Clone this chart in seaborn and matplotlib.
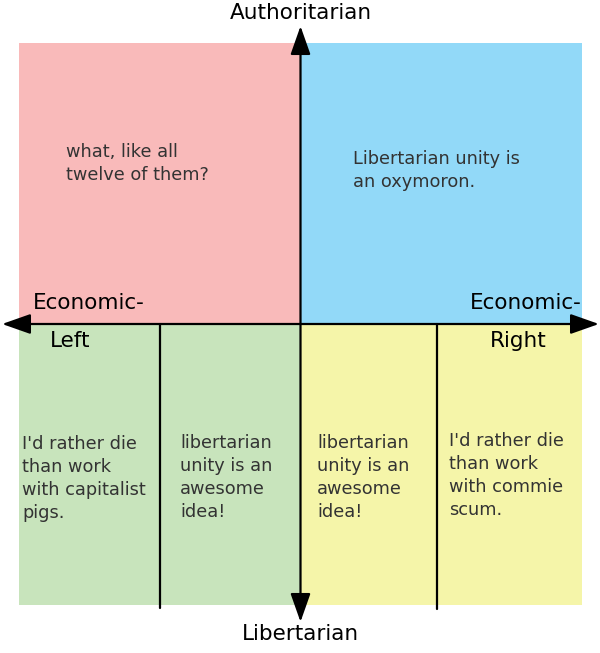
import matplotlib
matplotlib.use("Agg")
import matplotlib.pyplot as plt
from matplotlib.patches import Rectangle, ArrowStyle
import seaborn as sns
import pandas as pd

# ---- data ----
quad_x0 = [-10, 0, -10, 0]
quad_y0 = [0, 0, -10, -10]
quad_w = [10, 10, 10, 10]
quad_h = [10, 10, 10, 10]
quad_colors = ["#F9BABA", "#92D9F8", "#C8E4BC", "#F5F5A9"]

divider_x = [-5.0, 4.85]
divider_top = [0.0, 0.0]
divider_bottom = [-10.1, -10.15]

axis_labels = ["Authoritarian", "Libertarian", "Economic-", "Left", "Economic-", "Right"]
axis_label_x = [0.0, 0.0, -9.5, -8.9, 10.0, 6.74]
axis_label_y = [10.85, -11.23, 0.53, -0.82, 0.53, -0.82]
axis_label_ha = ["center", "center", "left", "left", "right", "left"]

blurbs = [
    ["what, like all", "twelve of them?"],
    ["Libertarian unity is", "an oxymoron."],
    ["I'd rather die", "than work", "with capitalist", "pigs."],
    ["libertarian", "unity is an", "awesome", "idea!"],
    ["libertarian", "unity is an", "awesome", "idea!"],
    ["I'd rather die", "than work", "with commie", "scum."],
]
blurb_x = [-8.33, 1.865, -9.89, -4.28, 0.586, 5.275]
blurb_y = [5.94, 5.69, -4.45, -4.41, -4.41, -4.34]
line_pitch = 0.815

arrow_reach = 10.6

# ---- figure ----
sns.set_theme(style="white")
plt.rcParams["font.family"] = ["DejaVu Sans"]

fig = plt.figure(figsize=(6.0, 6.53), dpi=100)
ax = fig.add_axes([19 / 600, 48 / 653, 563 / 600, 562 / 653])
ax.set_xlim(-10, 10)
ax.set_ylim(-10, 10)
ax.axis("off")

for x0, y0, w, h, c in zip(quad_x0, quad_y0, quad_w, quad_h, quad_colors):
    ax.add_patch(Rectangle((x0, y0), w, h, facecolor=c, edgecolor="none", zorder=0))

div_df = pd.DataFrame({
    "x": [v for v in divider_x for _ in range(2)],
    "y": [v for pair in zip(divider_top, divider_bottom) for v in pair],
    "divider": [i for i in range(len(divider_x)) for _ in range(2)],
})
sns.lineplot(data=div_df, x="x", y="y", units="divider", estimator=None, sort=False,
             color="black", lw=1.6, ax=ax, legend=False, zorder=2)
for l in ax.lines:
    l.set_clip_on(False)

astyle = ArrowStyle("<|-|>", head_length=0.88, head_width=0.31)
for (x1, y1, x2, y2) in [(-arrow_reach, 0, arrow_reach, 0), (0, arrow_reach, 0, -arrow_reach)]:
    ax.annotate("", xy=(x2, y2), xytext=(x1, y1),
                arrowprops=dict(arrowstyle=astyle, color="black", lw=1.6,
                                mutation_scale=20, shrinkA=0, shrinkB=0),
                annotation_clip=False, zorder=3)

for t, x, y, ha in zip(axis_labels, axis_label_x, axis_label_y, axis_label_ha):
    ax.text(x, y, t, ha=ha, va="baseline", fontsize=15.5, color="black", clip_on=False, zorder=4)

for lines, x, y in zip(blurbs, blurb_x, blurb_y):
    for i, line in enumerate(lines):
        ax.text(x, y - i * line_pitch, line, ha="left", va="baseline",
                fontsize=12.8, color="#333333", zorder=4)

fig.savefig("out.png", dpi=100)
